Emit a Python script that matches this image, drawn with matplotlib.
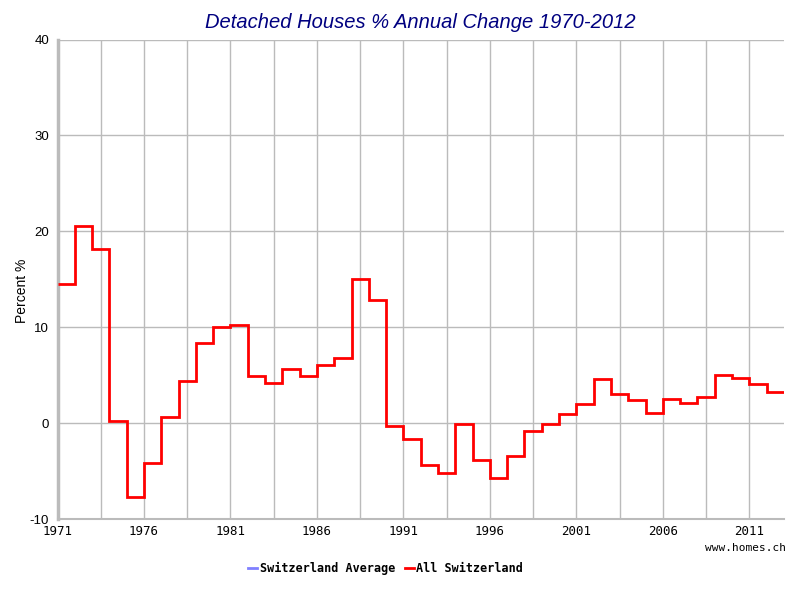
import numpy as np
import matplotlib.pyplot as plt
from matplotlib.lines import Line2D

plt.rcParams['axes.unicode_minus'] = False

years = list(range(1971, 2013))
all_switzerland = [14.5, 20.6, 18.2, 0.2, -7.7, -4.2, 0.6, 4.4, 8.4, 10.0,
                   10.2, 4.9, 4.2, 5.6, 4.9, 6.1, 6.8, 15.0, 12.8, -0.3,
                   -1.7, -4.4, -5.2, -0.1, -3.8, -5.7, -3.4, -0.8, -0.1, 0.9,
                   2.0, 4.6, 3.0, 2.4, 1.1, 2.5, 2.1, 2.7, 5.0, 4.7,
                   4.1, 3.2]
year_ticks = [1971, 1976, 1981, 1986, 1991, 1996, 2001, 2006, 2011]
y_ticks = [-10, 0, 10, 20, 30, 40]

grid_col = '#bbbbbb'
mono = 'DejaVu Sans Mono'

fig = plt.figure(figsize=(8, 6), dpi=100)
ax = fig.add_axes([0.0719, 0.135, 0.908, 0.799])

edges = years + [years[-1] + 1]
ax.stairs(all_switzerland, edges, color='#ff0000', linewidth=2, baseline=None, zorder=3)

ax.set_xlim(1971, 2013)
ax.set_ylim(-10, 40)
ax.xaxis.remove_overlapping_locs = False
ax.set_xticks(year_ticks)
ax.set_xticks(np.arange(1971, 2013.1, 2.5), minor=True)
ax.set_yticks(y_ticks)
ax.grid(True, which='minor', axis='x', color=grid_col, linewidth=1)
ax.grid(True, axis='y', color=grid_col, linewidth=1)
ax.tick_params(which='both', length=0)
ax.tick_params(axis='x', pad=4)
ax.tick_params(axis='y', pad=6)
for lab in ax.get_xticklabels():
    lab.set_family(mono)
    lab.set_fontsize(9)
for lab in ax.get_yticklabels():
    lab.set_family('Liberation Sans')
    lab.set_fontsize(9.5)

for s in ['top', 'right']:
    ax.spines[s].set_visible(False)
ax.spines['left'].set_color(grid_col)
ax.spines['left'].set_linewidth(2.5)
ax.spines['bottom'].set_color(grid_col)
ax.spines['bottom'].set_linewidth(1.5)

fig.text(0.525, 0.962, 'Detached Houses % Annual Change 1970-2012', ha='center', va='center',
         fontsize=14.5, style='italic', color='#000080', family='Liberation Sans')
fig.text(0.028, 0.515, 'Percent %', rotation=90, ha='center', va='center',
         fontsize=10, family='Liberation Sans')
fig.text(0.982, 0.087, 'www.homes.ch', ha='right', va='center', fontsize=8, family=mono)

handles = [Line2D([], [], color='#8080ff', linewidth=2),
           Line2D([], [], color='#ff0000', linewidth=2)]
fig.legend(handles, ['Switzerland Average', 'All Switzerland'], loc='center',
           bbox_to_anchor=(0.482, 0.053), ncol=2, frameon=False, handlelength=0.8,
           handletextpad=0.2, columnspacing=0.8, prop={'family': mono, 'size': 8.5, 'weight': 'bold'})

fig.savefig('out.png', dpi=100)
